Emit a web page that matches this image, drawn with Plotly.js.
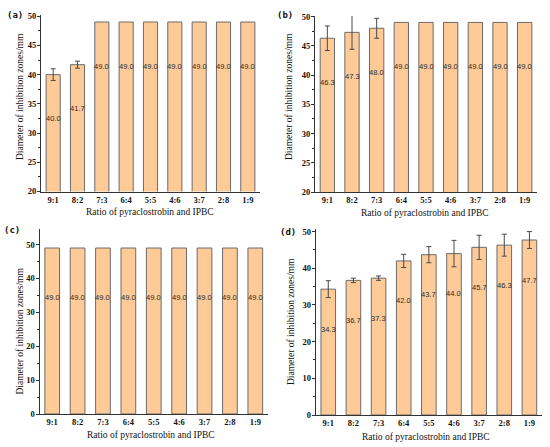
<!DOCTYPE html>
<html>
<head>
<meta charset="utf-8">
<script src="https://cdn.plot.ly/plotly-3.0.1.min.js"></script>
<style>
  html, body { margin: 0; padding: 0; background: #fff; }
  #chart { width: 550px; height: 447px; }
</style>
</head>
<body>
<div id="chart"></div>
<script>
// ratios of pyraclostrobin : IPBC
var ratios = ['9:1', '8:2', '7:3', '6:4', '5:5', '4:6', '3:7', '2:8', '1:9'];

// diameters of inhibition zones (mm) and their error bars, one pair per panel
var diamA = [40.0, 41.7, 49.0, 49.0, 49.0, 49.0, 49.0, 49.0, 49.0];
var errA  = [1.0, 0.6, 0, 0, 0, 0, 0, 0, 0];

var diamB = [46.3, 47.3, 48.0, 49.0, 49.0, 49.0, 49.0, 49.0, 49.0];
var errB  = [2.1, 2.9, 1.7, 0, 0, 0, 0, 0, 0];

var diamC = [49.0, 49.0, 49.0, 49.0, 49.0, 49.0, 49.0, 49.0, 49.0];
var errC  = [0, 0, 0, 0, 0, 0, 0, 0, 0];

var diamD = [34.3, 36.7, 37.3, 42.0, 43.7, 44.0, 45.7, 46.3, 47.7];
var errD  = [2.3, 0.6, 0.6, 1.8, 2.2, 3.6, 3.3, 3.0, 2.3];

var panelLabels = ['(a)', '(b)', '(c)', '(d)'];
var xTitle = 'Ratio of pyraclostrobin and IPBC';
var yTitle = 'Diameter of inhibition zones/mm';

var W = 550, H = 447;
var px = function(v) { return v / W; };
var py = function(v) { return 1 - v / H; };

var barColor = '#FDCA98';
var edgeColor = '#6b6b6b';
var axisColor = '#333333';
var serif = 'Liberation Serif, Times New Roman, serif';

// pixel boxes of each panel
var panels = [
    {y: diamA, e: errA, x0: 41, x1: 260, top: 15, bottom: 191.5, range: [20, 50.2], dtick: 5, minor: 2.5, shift: -44,
     ytx: 20, yty: 97, xtx: 150, xty: 212, lx: 15, ly: 15},
    {y: diamB, e: errB, x0: 315, x1: 537, top: 16, bottom: 192, range: [20, 50.1], dtick: 5, minor: 2.5, shift: -44,
     ytx: 289, yty: 97, xtx: 425, xty: 213, lx: 285, ly: 15},
    {y: diamC, e: errC, x0: 39.5, x1: 268, top: 228.7, bottom: 414, range: [0, 54.7], dtick: 10, minor: 5, shift: -49,
     ytx: 19.5, yty: 331, xtx: 151, xty: 435, lx: 12, ly: 230},
    {y: diamD, e: errD, x0: 315.7, x1: 542, top: 229, bottom: 415, range: [0, 50.7], dtick: 10, minor: 5, shift: -40,
     ytx: 291, yty: 322, xtx: 426, xty: 437, lx: 288, ly: 232}
];

var data = [];
var annotations = [];
var layout = {
    width: W,
    height: H,
    margin: {l: 0, r: 0, t: 0, b: 0},
    paper_bgcolor: '#ffffff',
    plot_bgcolor: 'rgba(0,0,0,0)',
    showlegend: false,
    bargap: 0.42
};

for (var i = 0; i < panels.length; i++) {
    var p = panels[i];
    var sfx = i === 0 ? '' : String(i + 1);

    data.push({
        type: 'bar',
        x: ratios,
        y: p.y,
        xaxis: 'x' + sfx,
        yaxis: 'y' + sfx,
        marker: {color: barColor, line: {color: edgeColor, width: 1}},
        error_y: {
            type: 'data',
            array: p.e.map(function(v) { return v > 0 ? v : NaN; }),
            visible: true,
            color: '#4a4a4a',
            thickness: 1,
            width: 2.5
        },
        hoverinfo: 'skip'
    });

    layout['xaxis' + sfx] = {
        domain: [px(p.x0), px(p.x1)],
        anchor: 'y' + sfx,
        type: 'category',
        range: [-0.5, 8.5],
        showline: true,
        linecolor: axisColor,
        linewidth: 1,
        ticks: '',
        showgrid: false,
        zeroline: false,
        tickfont: {family: serif, size: 8.5, color: '#111', weight: 'bold'},
        fixedrange: true
    };
    layout['yaxis' + sfx] = {
        domain: [py(p.bottom), py(p.top)],
        anchor: 'x' + sfx,
        range: p.range,
        dtick: p.dtick,
        tick0: 0,
        showline: true,
        linecolor: axisColor,
        linewidth: 1,
        ticks: 'outside',
        ticklen: 3,
        tickwidth: 1,
        tickcolor: axisColor,
        ticklabelstandoff: -1,
        minor: {dtick: p.minor, ticks: 'outside', ticklen: 2, tickcolor: axisColor, showgrid: false},
        showgrid: false,
        zeroline: false,
        tickfont: {family: serif, size: 8.5, color: '#111', weight: 'bold'},
        fixedrange: true
    };

    // value labels inside the bars
    for (var j = 0; j < ratios.length; j++) {
        annotations.push({
            xref: 'x' + sfx, yref: 'y' + sfx,
            x: ratios[j], y: p.y[j],
            xanchor: 'center', yanchor: 'middle',
            yshift: p.shift,
            text: p.y[j].toFixed(1),
            showarrow: false,
            font: {family: 'Liberation Sans, Arial, sans-serif', size: 7.5, color: '#2a2a2a'}
        });
    }

    annotations.push({
        xref: 'paper', yref: 'paper',
        x: px(p.xtx), y: py(p.xty),
        xanchor: 'center', yanchor: 'middle',
        text: xTitle, showarrow: false,
        font: {family: serif, size: 9.5, color: '#111'}
    });
    annotations.push({
        xref: 'paper', yref: 'paper',
        x: px(p.ytx), y: py(p.yty),
        xanchor: 'center', yanchor: 'middle',
        text: yTitle, showarrow: false, textangle: -90,
        font: {family: serif, size: 9.5, color: '#111'}
    });
    annotations.push({
        xref: 'paper', yref: 'paper',
        x: px(p.lx), y: py(p.ly),
        xanchor: 'center', yanchor: 'middle',
        text: '<b>' + panelLabels[i] + '</b>', showarrow: false,
        font: {family: 'DejaVu Sans Mono, monospace', size: 9, color: '#111'}
    });
}

layout.annotations = annotations;

Plotly.newPlot('chart', data, layout, {staticPlot: true, displayModeBar: false});
</script>
</body>
</html>
